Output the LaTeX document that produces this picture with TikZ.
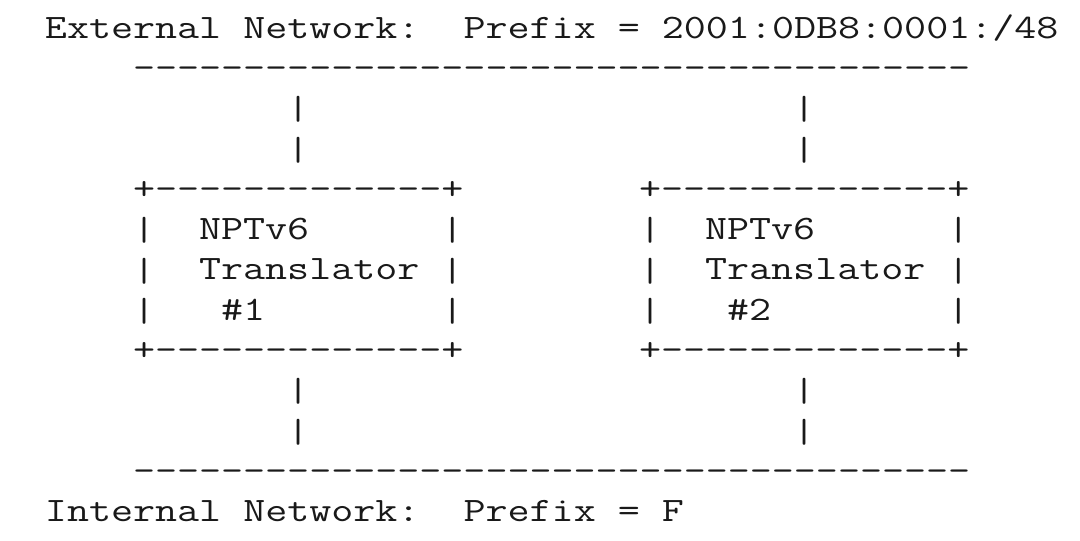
\documentclass[tikz,border=0pt]{standalone}
\newcommand\hy{\mbox{-}}
\newcommand\hyten{\hy\hy\hy\hy\hy\hy\hy\hy\hy\hy}
\newcommand\busline{\hyten\hyten\hyten\hy\hy\hy\hy\hy\hy\hy\hy}
\newcommand\boxedge{+\hyten\hy\hy\hy+}
\newcommand\sq[1]{\scalebox{1}[0.8]{#1}}
\newcommand\pp{\raisebox{-3.8pt}{\resizebox{\width}{26pt}{\raisebox{\depth}{|}}}}
\tikzset{
  asc/.style={anchor=base west, inner sep=0pt, outer sep=0pt,
    font=\fontsize{42.78pt}{44pt}\selectfont\ttfamily, text=black!90},
}
\newcommand\cx[1]{{45+22*(#1)}}
\newcommand\ry[1]{{38.3+40.28*(#1)}}
\begin{document}
\begin{tikzpicture}[x=1pt,y=-1pt]
\useasboundingbox[fill=white] (0,0) rectangle (1080,541);
% titles
\node[asc] (ext) at (\cx{0},\ry{0}) {\sq{External~Network:~~Prefix~=~2001:0DB8:0001:/48}};
\node[asc] (int) at (\cx{0},\ry{12}) {\sq{Internal~Network:~~Prefix~=~F}};
% buses
\node[asc] (bustop) at (\cx{4},\ry{1}) {\sq{\busline}};
\node[asc] (busbot) at (\cx{4},\ry{11}) {\sq{\busline}};
% upper links
\node[asc] (ua1) at (\cx{11},\ry{2}) {\pp};
\node[asc] (ub1) at (\cx{11},\ry{3}) {\pp};
\node[asc] (ua2) at (\cx{34},\ry{2}) {\pp};
\node[asc] (ub2) at (\cx{34},\ry{3}) {\pp};
% lower links
\node[asc] (la1) at (\cx{11},\ry{9}) {\pp};
\node[asc] (lb1) at (\cx{11},\ry{10}) {\pp};
\node[asc] (la2) at (\cx{34},\ry{9}) {\pp};
\node[asc] (lb2) at (\cx{34},\ry{10}) {\pp};
% translator 1
\node[asc] (t1top) at (\cx{4},\ry{4}) {\sq{\boxedge}};
\node[asc] (t1l1) at (\cx{4},\ry{5}) {\pp\sq{~~NPTv6~~~~~~}\pp};
\node[asc] (t1l2) at (\cx{4},\ry{6}) {\pp\sq{~~Translator~}\pp};
\node[asc] (t1l3) at (\cx{4},\ry{7}) {\pp\sq{~~~\#1~~~~~~~~}\pp};
\node[asc] (t1bot) at (\cx{4},\ry{8}) {\sq{\boxedge}};
% translator 2
\node[asc] (t2top) at (\cx{27},\ry{4}) {\sq{\boxedge}};
\node[asc] (t2l1) at (\cx{27},\ry{5}) {\pp\sq{~~NPTv6~~~~~~}\pp};
\node[asc] (t2l2) at (\cx{27},\ry{6}) {\pp\sq{~~Translator~}\pp};
\node[asc] (t2l3) at (\cx{27},\ry{7}) {\pp\sq{~~~\#2~~~~~~~~}\pp};
\node[asc] (t2bot) at (\cx{27},\ry{8}) {\sq{\boxedge}};
\end{tikzpicture}
\end{document}
